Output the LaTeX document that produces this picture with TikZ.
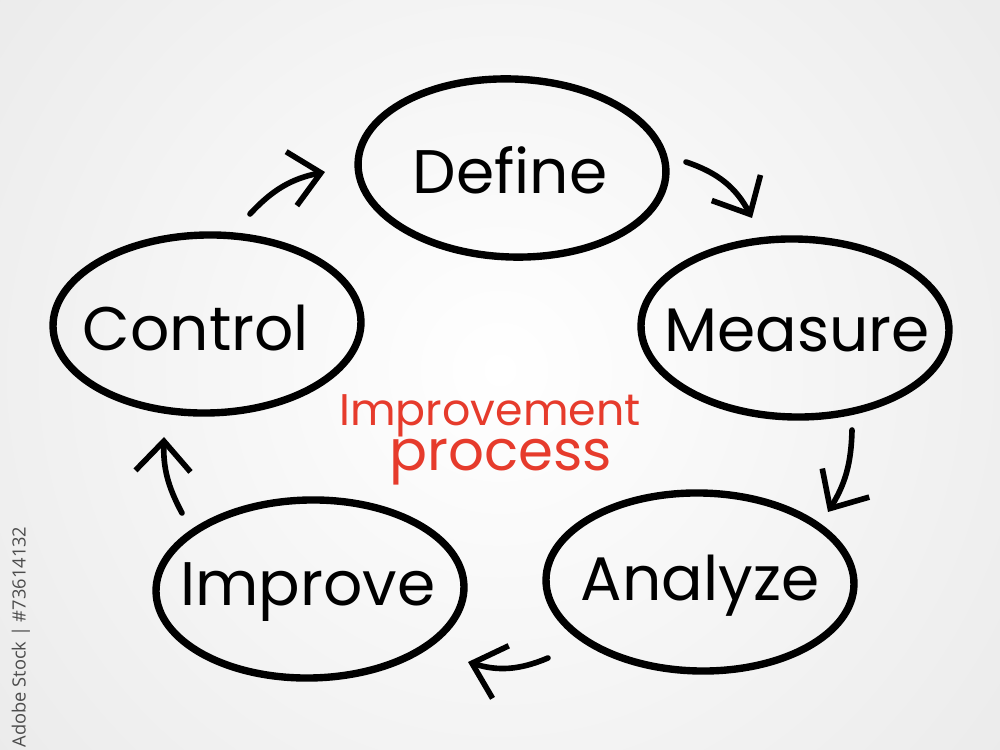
\documentclass[tikz,border=0pt]{standalone}
\usepackage{fontspec}
\setmainfont{Poppins}
\newfontfamily\wmfont{Open Sans}
\usetikzlibrary{shapes.geometric,arrows.meta}
\definecolor{redink}{HTML}{E63B2C}
\begin{document}
\begin{tikzpicture}[x=0.1mm,y=-0.1mm,
  stage/.style={ellipse,draw=black,line width=2.1pt,minimum width=30.8mm,minimum height=17.8mm,
    inner sep=0pt},
  word/.style={font=\fontsize{17.5}{20}\selectfont},
  flow/.style={line width=1.6pt,line cap=round,
    -{Straight Barb[length=3mm,width=5.5mm,line width=1.6pt]}},
  centre/.style={text=redink,inner sep=0pt,align=center},
  stamp/.style={text=black!70,font=\wmfont\fontsize{5.2}{6}\selectfont,rotate=90}
]
\useasboundingbox (0,0) rectangle (1000,750);
\begin{scope}
  \clip (0,0) rectangle (1000,750);
  \shade[inner color=white,outer color=black!16] (500,370) circle (1300);
\end{scope}

% stages
\node[stage,rotate=-2] (def) at (512,168) {};
\node[stage,rotate=-1] (mea) at (795,328) {};
\node[stage,rotate=-1] (ana) at (700,582) {};
\node[stage,rotate=1]  (imp) at (310,589) {};
\node[stage,rotate=1]  (ctl) at (207,324) {};
\node[word] (defl) at (510,170) {Define};
\node[word] (meal) at (797,330) {Measure};
\node[word] (anal) at (700,586) {Analyze};
\node[word] (impl) at (308,592) {Improve};
\node[word] (ctll) at (196,328) {Control};

% centre label (one two-line text)
\node[centre,font=\fontsize{12.6}{12.8}\selectfont,anchor=north] (title) at (490,394)
  {Improvement\\\hspace*{6pt}{\fontsize{16}{12.8}\selectfont process}};

% arrow ends
\coordinate (c2ds) at (250,214);
\coordinate (c2de) at (325,172);
\coordinate (d2ms) at (686,162);
\coordinate (d2me) at (752,218);
\coordinate (m2as) at (852,430);
\coordinate (m2ae) at (828,512);
\coordinate (a2is) at (548,658);
\coordinate (a2ie) at (468,662);
\coordinate (i2cs) at (182,513);
\coordinate (i2ce) at (164,437);

\draw[flow] (c2ds) to[bend left=18] (c2de);
\draw[flow] (d2ms) to[bend left=22] (d2me);
\draw[flow] (m2as) to[bend left=15] (m2ae);
\draw[flow] (a2is) to[bend left=20] (a2ie);
\draw[flow] (i2cs) to[bend left=15] (i2ce);

% stock caption
\node[stamp] (cap) at (21,637) {Adobe Stock | \#73614132};
\end{tikzpicture}
\end{document}
